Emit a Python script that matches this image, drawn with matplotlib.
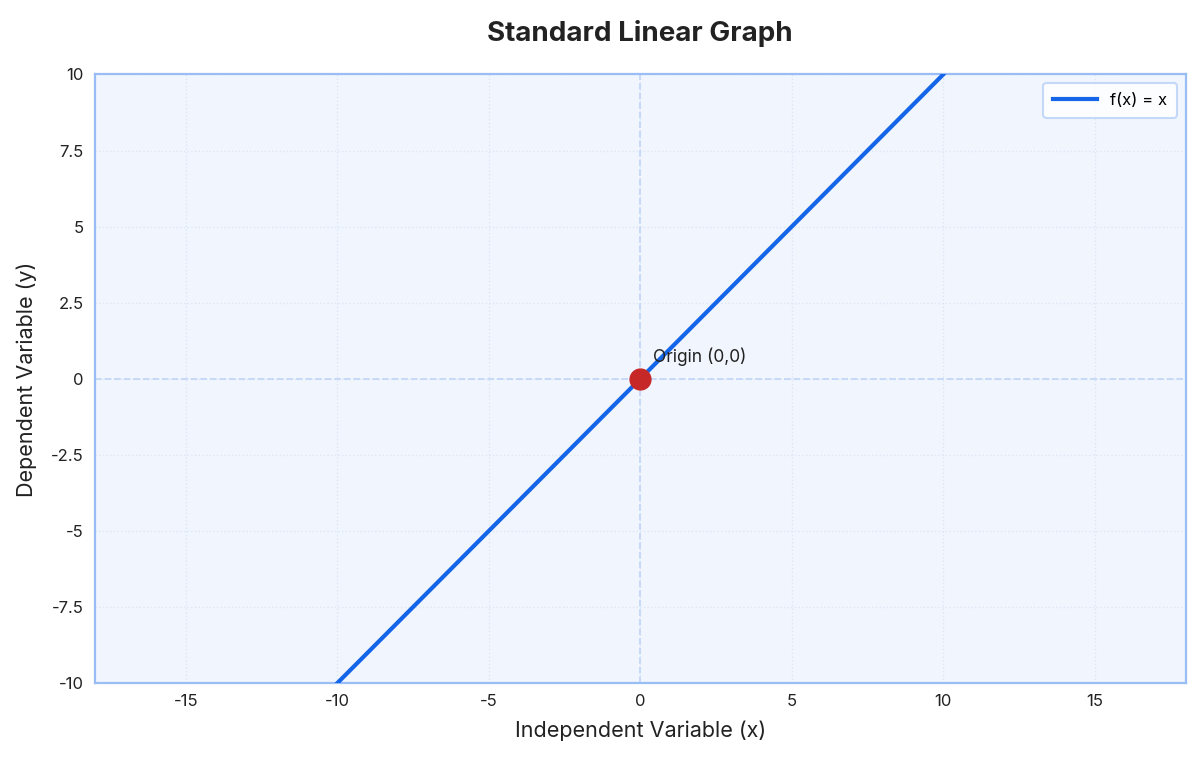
import matplotlib
matplotlib.use("Agg")
import matplotlib.pyplot as plt

# data
line_x = [-10, 10]
line_y = [-10, 10]
origin = (0, 0)
x_ticks = [-15, -10, -5, 0, 5, 10, 15]
y_ticks = [-10, -7.5, -5, -2.5, 0, 2.5, 5, 7.5, 10]
y_tick_labels = ["-10", "-7.5", "-5", "-2.5", "0", "2.5", "5", "7.5", "10"]

plt.rcParams['font.family'] = ['Inter', 'DejaVu Sans']
plt.rcParams['axes.unicode_minus'] = False

fig, ax = plt.subplots(figsize=(12, 7.6), dpi=100)
fig.subplots_adjust(left=0.079, right=0.988, top=0.902, bottom=0.101)

ax.set_facecolor('#f1f6fe')
for s in ax.spines.values():
    s.set_color('#99bdf5')
    s.set_linewidth(1.6)

ax.grid(True, linestyle=':', color='#dde6f5', linewidth=1)
ax.set_axisbelow(True)
ax.axhline(0, color='#c3d7f7', linestyle='--', linewidth=1.3, zorder=1)
ax.axvline(0, color='#c3d7f7', linestyle='--', linewidth=1.3, zorder=1)

ax.plot(line_x, line_y, color='#1565e8', linewidth=3, label='f(x) = x', zorder=3)
ax.plot(origin[0], origin[1], 'o', color='#c62828', markersize=15, zorder=4)
ax.annotate('Origin (0,0)', xy=origin, xytext=(9, 12), textcoords='offset points',
            fontsize=12.5, color='#222222')

ax.set_xlim(-18, 18)
ax.set_ylim(-10, 10)
ax.set_xticks(x_ticks)
ax.set_yticks(y_ticks)
ax.set_yticklabels(y_tick_labels)
ax.tick_params(length=0, labelsize=12, colors='#222222', pad=8)

ax.set_xlabel('Independent Variable (x)', fontsize=15.5, color='#222222', labelpad=8)
ax.set_ylabel('Dependent Variable (y)', fontsize=15.5, color='#222222', labelpad=10)
ax.set_title('Standard Linear Graph', fontsize=20, fontweight='bold', color='#222222', pad=24)

leg = ax.legend(loc='upper right', fontsize=12, frameon=True, fancybox=True,
                handlelength=2.6, borderpad=0.6)
leg.get_frame().set_edgecolor('#b8d0f7')
leg.get_frame().set_facecolor('white')
leg.get_frame().set_linewidth(1.5)

plt.savefig('out.png', dpi=100)
